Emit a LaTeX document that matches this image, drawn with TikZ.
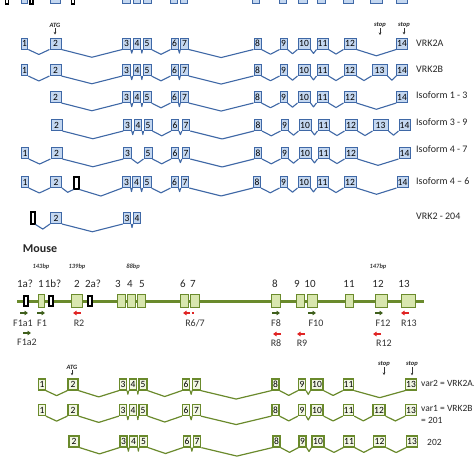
\documentclass[tikz,border=0pt]{standalone}
\usepackage{fontspec}
\setmainfont{Carlito}
\usepackage{tikz}
\usetikzlibrary{calc, positioning}
\usetikzlibrary{arrows.meta}
\tikzset{>=stealth}
\definecolor{hline}{HTML}{3F68A6}
\definecolor{hfill}{HTML}{C4D7F0}
\definecolor{mline}{HTML}{6A8A2C}
\definecolor{mfill}{HTML}{D8E6AE}
\definecolor{tfill}{HTML}{F2F7E4}
\definecolor{fgreen}{HTML}{3F5F1C}
\definecolor{rred}{HTML}{E02424}

\tikzset{
  hexon/.style={draw=hline, fill=hfill, line width=1pt, minimum height=11pt, inner sep=0.3pt, font=\fontsize{9.5}{9.5}\selectfont},
  hblack/.style={draw=black, fill=white, line width=1.1pt, minimum width=4pt, minimum height=12pt, inner sep=0pt},
  hintron/.style={draw=hline, line width=1.1pt, line join=round,
    to path={let \p1=(\tikztostart.south east), \p2=(\tikztotarget.south west) in
      (\p1) -- ({(\x1+\x2)/2},{\y1-3.5pt-0.07*(\x2-\x1)}) -- (\p2)}},
  hname/.style={anchor=west, inner sep=0pt, font=\fontsize{10}{10}\selectfont, text=black!85},
  gexon/.style={draw=mline, fill=mfill, line width=1pt, minimum height=13pt, inner sep=0pt},
  gblack/.style={draw=black, fill=white, line width=1.1pt, minimum width=4pt, minimum height=10pt, inner sep=0pt},
  gline/.style={draw=mline, line width=2.4pt},
  glab/.style={inner sep=0pt, font=\fontsize{11}{11}\selectfont, text=black!85},
  bp/.style={inner sep=0pt, font=\fontsize{6.5}{6.5}\selectfont\bfseries\itshape, text=black!75},
  plab/.style={inner sep=0pt, font=\fontsize{10}{10}\selectfont, text=black!80},
  fwd/.style={draw=fgreen, line width=1.6pt, -{Triangle[length=3.5pt,width=4.5pt]}},
  rev/.style={draw=rred, line width=1.6pt, -{Triangle[length=3.5pt,width=4.5pt]}},
  mexon/.style={draw=mline, fill=tfill, line width=1.2pt, minimum height=11pt, inner sep=0.3pt, font=\fontsize{9.5}{9.5}\selectfont},
  mintron/.style={hintron, draw=mline, line width=1.2pt},
  tag/.style={inner sep=0.5pt, font=\fontsize{6.5}{6.5}\selectfont\bfseries\itshape, text=black!85},
  tagarrow/.style={draw=black!80, line width=0.5pt, -{Stealth[length=2.5pt,width=2.5pt]}, shorten >=3pt}
}

\begin{document}
\begin{tikzpicture}[x=1pt,y=-1pt]
\useasboundingbox (0,0) rectangle (474,474);

% human, row cut off at the top
\foreach \n/\x/\w in {1/24/6, 2/55/10, 3/126.5/7.5, 4/137/7.5, 5/147/8, 6/173.5/7, 7/183.5/7, 8/256/6.5, 9/282.5/7, 10/302.5/9, 11/321/8, 12/348/10, 13/376/12, 14/401.5/11}
  \node[hexon, minimum width=\w pt] (T\n) at (\x,-2) {};
\foreach \n/\x in {a/7, b/31.5, c/73}
  \node[hblack, minimum width=3pt, minimum height=14pt] (T\n) at (\x,-3) {};

% VRK2A
\foreach \n/\x/\w in {1/24.5/6.5, 2/55.5/11, 3/126.5/7.5, 4/137/7.5, 5/147/8, 6/174.5/7, 7/184.5/7.5, 8/257.5/7, 9/283.5/7, 10/304/12, 11/322.5/11, 12/350/12, 14/402/10.5}
  \node[hexon, minimum width=\w pt] (A\n) at (\x,43.5) {\n};
\foreach \a/\b in {1/2,2/3,3/4,4/5,5/6,6/7,7/8,8/9,9/10,10/11,11/12,12/14}
  \draw[hintron] (A\a) to (A\b);
\node[hname] (nA) at (416,43) {VRK2A};

% VRK2B
\foreach \n/\x/\w in {1/24.5/6.5, 2/55.5/11, 3/126.5/7.5, 4/137/7.5, 5/147/8, 6/174.5/7, 7/184.5/7.5, 8/257.5/7, 9/283.5/7, 10/304/12, 11/322.5/11, 12/350/12, 13/379.5/15, 14/402/10.5}
  \node[hexon, minimum width=\w pt] (B\n) at (\x,70) {\n};
\foreach \a/\b in {1/2,2/3,3/4,4/5,5/6,6/7,7/8,8/9,9/10,10/11,11/12,12/13,13/14}
  \draw[hintron] (B\a) to (B\b);
\node[hname] (nB) at (416,69) {VRK2B};

% isoform 1 - 3
\foreach \n/\x/\w in {2/55.5/11, 3/126.5/7.5, 4/137/7.5, 5/147/8, 6/174.5/7, 7/184.5/7.5, 8/257.5/7, 9/283.5/7, 10/304/12, 11/322.5/11, 12/350/12, 14/402/10.5}
  \node[hexon, minimum width=\w pt] (C\n) at (\x,97) {\n};
\foreach \a/\b in {2/3,3/4,4/5,5/6,6/7,7/8,8/9,9/10,10/11,11/12,12/14}
  \draw[hintron] (C\a) to (C\b);
\node[hname] (nC) at (416,95) {Isoform 1 - 3};

% isoform 3 - 9
\foreach \n/\x/\w in {2/56.5/11, 3/127.5/7.5, 4/138/7.5, 5/148/8, 6/175/7, 7/186/7.5, 8/258/7, 9/284.5/7, 10/305/12, 11/323.5/11, 12/351/12, 13/380.5/15, 14/404.5/11}
  \node[hexon, minimum width=\w pt] (D\n) at (\x,125) {\n};
\foreach \a/\b in {2/3,3/4,4/5,5/6,6/7,7/8,8/9,9/10,10/11,11/12,12/13,13/14}
  \draw[hintron] (D\a) to (D\b);
\node[hname] (nD) at (416,122) {Isoform 3 - 9};

% isoform 4 - 7
\foreach \n/\x/\w in {1/25/6.5, 2/56.5/11, 3/127.5/7.5, 5/148/8, 6/175/7, 7/186/7.5, 8/258/7, 9/284.5/7, 10/305/12, 11/323.5/11, 12/351/12, 14/404.5/11}
  \node[hexon, minimum width=\w pt] (E\n) at (\x,153) {\n};
\foreach \a/\b in {1/2,2/3,3/5,5/6,6/7,7/8,8/9,9/10,10/11,11/12,12/14}
  \draw[hintron] (E\a) to (E\b);
\node[hname] (nE) at (416,149) {Isoform 4 - 7};

% isoform 4 - 6
\foreach \n/\x/\w in {1/25/6.5, 2/56/11, 3/126.5/7.5, 4/136.5/7.5, 5/147/8, 6/174.5/7, 7/185/7.5, 8/257/7, 9/283.5/7, 10/304/12, 11/322.5/11, 12/350/12, 14/402.5/11}
  \node[hexon, minimum width=\w pt] (F\n) at (\x,182) {\n};
\node[hblack, minimum width=5pt] (Fx) at (76.5,183) {};
\foreach \a/\b in {1/2,2/x,x/3,3/4,4/5,5/6,6/7,7/8,8/9,9/10,10/11,11/12,12/14}
  \draw[hintron] (F\a) to (F\b);
\node[hname] (nF) at (416,181) {Isoform 4 – 6};

% VRK2 - 204
\node[hblack] (Gx) at (33,218) {};
\foreach \n/\x/\w in {2/56/11, 3/127/7.5, 4/137/7.5}
  \node[hexon, minimum width=\w pt] (G\n) at (\x,218) {\n};
\foreach \a/\b in {x/2,2/3,3/4}
  \draw[hintron] (G\a) to (G\b);
\node[hname] (nG) at (416,216) {VRK2 - 204};

% ATG and stop codons, human
\node[tag] (atgH) at (55,25) {ATG};
\draw[tagarrow] (atgH.south) -- (atgH.south |- A2.north);
\node[tag] (stopH) at (380,25) {stop};
\coordinate (stopHend) at (380,38);
\draw[tagarrow] (stopH.south) -- (stopHend);
\node[tag] (stopHb) at (404,25) {stop};
\draw[tagarrow] (stopHb.south) -- (stopHb.south |- A14.north);

% mouse gene
\node[font=\fontsize{12}{12}\selectfont\bfseries, inner sep=0pt, text=black!85] (mouse) at (40,249) {Mouse};
\coordinate (gs) at (17,301.5);
\coordinate (ge) at (424,301.5);
\draw[gline] (gs) -- (ge);
\foreach \n/\x/\w in {1/41/6, 2/76.5/11, 3/121.5/8.5, 4/131.5/8.5, 5/141.5/8, 6/184/8, 7/194.5/9, 8/275.5/9, 9/300/8, 10/312/10, 11/349/8, 12/381/12, 13/408/14}
  \node[gexon, minimum width=\w pt] (M\n) at (\x,300.5) {};
\foreach \n/\x in {1a/26, 1b/51, 2a/90}
  \node[gblack] (M\n) at (\x,301) {};
\foreach \n/\x/\t in {1a/25/1a?, 1/41/1, 1b/53/1b?, 2/77/2, 2a/93/2a?, 3/118/3, 4/130/4, 5/142/5, 6/183/6, 7/193/7, 8/275/8, 9/297/9, 10/310/10, 11/349/11, 12/378/12, 13/404/13}
  \node[glab] (L\n) at (\x,284) {\t};
\node[bp] (bp1) at (41,267) {143bp};
\node[bp] (bp2) at (77,267) {139bp};
\node[bp] (bp3) at (133,267) {88bp};
\node[bp] (bp4) at (378,267) {147bp};

% primers
\draw[fwd] (20,313) -- (28,313);
\draw[fwd] (37,313) -- (45,313);
\draw[rev] (81,313) -- (73,313);
\draw[rev] (190,313) -- (183,313);
\draw[draw=rred, line width=1.6pt] (191.5,313) -- (194,313);
\draw[fwd] (272,313) -- (280,313);
\draw[fwd] (308,313) -- (316,313);
\draw[fwd] (375,313) -- (383,313);
\draw[rev] (409,313) -- (401,313);
\draw[fwd] (23,333) -- (31,333);
\draw[rev] (281,334) -- (273,334);
\draw[rev] (305,334) -- (297,334);
\draw[rev] (381,334) -- (373,334);
\foreach \i/\n/\x/\y in {a/F1a1/23/323, b/F1/42/323, c/R2/79/323, d/R6\slash 7/195/323, e/F8/276/323, f/F10/316/323, g/F12/383/323, h/R13/409/323, i/F1a2/27/342, j/R8/276/343, k/R9/302/343, l/R12/384/343}
  \node[plab] (p\i) at (\x,\y) {\n};

% var2
\foreach \n/\x/\w in {1/42/6.5, 2/73/10, 3/123/7, 4/133/7.5, 5/143/8, 6/186/7, 7/196.5/7.5, 8/275.5/7, 9/302/7, 10/317/12, 11/348.5/7.5, 13/411/10.5}
  \node[mexon, minimum width=\w pt] (P\n) at (\x,384.5) {\n};
\foreach \a/\b in {1/2,2/3,3/4,4/5,5/6,6/7,7/8,8/9,9/10,10/11,11/13}
  \draw[mintron] (P\a) to (P\b);
\node[hname, font=\fontsize{9.5}{9.5}\selectfont] (nP) at (421,383) {var2 = VRK2A.};

% ATG and stop codons, mouse
\node[tag] (atgM) at (72,367) {ATG};
\draw[tagarrow] (atgM.south) -- (atgM.south |- P2.north);
\node[tag] (stopM) at (384,364) {stop};
\coordinate (stopMend) at (384,378);
\draw[tagarrow] (stopM.south) -- (stopMend);
\node[tag] (stopMb) at (412,364) {stop};
\draw[tagarrow] (stopMb.south) -- (stopMb.south |- P13.north);

% var1
\foreach \n/\x/\w in {1/42/6.5, 2/73/10, 3/123/7, 4/133/7.5, 5/143/8, 6/186/7, 7/196.5/7.5, 8/275.5/7, 9/302/7, 10/317/12, 11/348.5/7.5, 12/379/12, 13/411/10.5}
  \node[mexon, minimum width=\w pt] (Q\n) at (\x,410) {\n};
\foreach \a/\b in {1/2,2/3,3/4,4/5,5/6,6/7,7/8,8/9,9/10,10/11,11/12,12/13}
  \draw[mintron] (Q\a) to (Q\b);
\node[hname, font=\fontsize{9.5}{9.5}\selectfont] (nQ) at (421,408) {var1 = VRK2B};
\node[hname, font=\fontsize{9.5}{9.5}\selectfont] (nQb) at (421,420) {= 201};

% 202
\foreach \n/\x/\w in {2/74/10, 3/123.5/7, 4/133.5/7.5, 5/143.5/8, 6/187/7, 7/197/7.5, 8/276.5/7, 9/302.5/7, 10/318/12, 11/349/7.5, 12/379.5/12, 13/412/10.5}
  \node[mexon, minimum width=\w pt] (R\n) at (\x,441.5) {\n};
\foreach \a/\b in {2/3,3/4,4/5,5/6,6/7,7/8,8/9,9/10,10/11,11/12,12/13}
  \draw[mintron] (R\a) to (R\b);
\node[hname, font=\fontsize{9.5}{9.5}\selectfont] (nR) at (427,442) {202};
\end{tikzpicture}
\end{document}
